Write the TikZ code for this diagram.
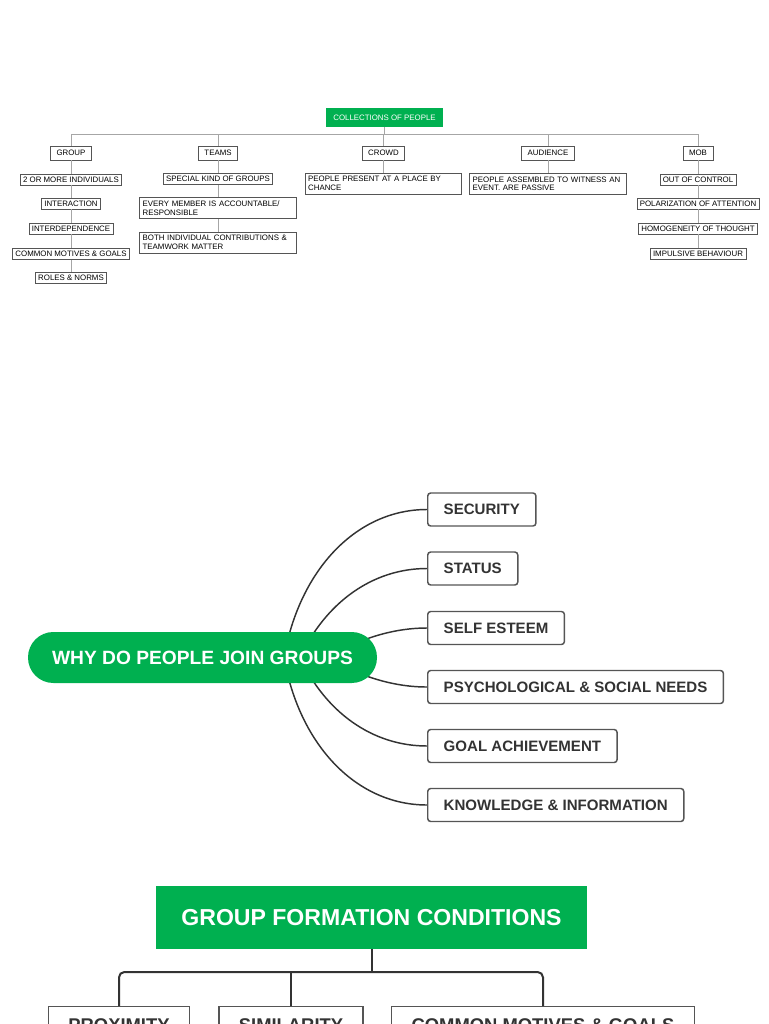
\documentclass[tikz,border=0pt]{standalone}
\usepackage{fontspec}
\setmainfont{Liberation Sans}
\usetikzlibrary{calc,backgrounds}
\definecolor{mapgreen}{HTML}{00B050}
\definecolor{ink}{HTML}{333333}
\definecolor{edge}{HTML}{555555}

\begin{document}
\begin{tikzpicture}[x=0.75pt,y=-0.75pt,
  tiny/.style={font=\fontsize{5.9pt}{6.4pt}\selectfont},
  rootbox/.style={tiny, fill=mapgreen, text=white, inner xsep=5.6pt, inner ysep=0pt, minimum height=14.25pt},
  topbox/.style={tiny, draw=edge, line width=0.5pt, fill=white, inner xsep=4.5pt, inner ysep=0pt, minimum height=10.5pt},
  leaf/.style={tiny, draw=edge, line width=0.5pt, fill=white, inner xsep=2.2pt, inner ysep=0pt, minimum height=8.25pt},
  note/.style={leaf, text width=113pt, align=left, minimum height=15.75pt},
  tline/.style={draw=gray!70, line width=0.6pt},
  pill/.style={fill=mapgreen, text=white, font=\bfseries\fontsize{14.4pt}{17pt}\selectfont,
    minimum width=261.75pt, minimum height=38.25pt, rounded corners=19pt},
  reason/.style={draw=edge, line width=1.1pt, rounded corners=2.2pt, fill=white, text=ink,
    font=\bfseries\fontsize{11.3pt}{13pt}\selectfont, inner xsep=12pt, minimum height=24.75pt, anchor=west},
  link/.style={draw=ink, line width=1.1pt},
  gfcbox/.style={fill=mapgreen, text=white, font=\bfseries\fontsize{17.3pt}{20pt}\selectfont,
    minimum width=323.25pt, minimum height=47.25pt},
  cond/.style={draw=edge, line width=1.1pt, fill=white, text=ink,
    font=\bfseries\fontsize{13.8pt}{16pt}\selectfont, inner xsep=15pt, minimum height=27.75pt, anchor=north},
  bline/.style={draw=ink, line width=1.5pt}]
  \clip (0,0) rectangle (768,1024);

  % collections of people
  \node[rootbox] (root) at (384.5,117.5) {COLLECTIONS OF PEOPLE};
  \node[topbox] (grp) at (71,153) {GROUP};
  \node[topbox] (team) at (218,153) {TEAMS};
  \node[topbox] (crowd) at (383.5,153) {CROWD};
  \node[topbox] (aud) at (548,153) {AUDIENCE};
  \node[topbox] (mob) at (698,153) {MOB};
  \foreach \n in {grp,team,crowd,aud,mob}
    \draw[tline] (root.south) -- ++(0,7.5) -| (\n.north);

  \node[leaf] (g1) at (71,179.5) {2 OR MORE INDIVIDUALS};
  \node[leaf] (g2) at (71,203.5) {INTERACTION};
  \node[leaf] (g3) at (71,228.5) {INTERDEPENDENCE};
  \node[leaf] (g4) at (71,254) {COMMON MOTIVES \& GOALS};
  \node[leaf] (g5) at (71,277.5) {ROLES \& NORMS};
  \draw[tline] (grp) -- (g1) -- (g2) -- (g3) -- (g4) -- (g5);

  \node[leaf] (t1) at (218,179) {SPECIAL KIND OF GROUPS};
  \node[note] (t2) at (218,208) {EVERY MEMBER IS ACCOUNTABLE/\\RESPONSIBLE};
  \node[note] (t3) at (218,242.5) {BOTH INDIVIDUAL CONTRIBUTIONS \&\\TEAMWORK MATTER};
  \draw[tline] (team) -- (t1) -- (t2) -- (t3);

  \node[note] (c1) at (383.5,183.5) {PEOPLE PRESENT AT A PLACE BY\\CHANCE};
  \draw[tline] (crowd) -- (c1);

  \node[note] (a1) at (548,184) {PEOPLE ASSEMBLED TO WITNESS AN\\EVENT. ARE PASSIVE};
  \draw[tline] (aud) -- (a1);

  \node[leaf] (m1) at (698,179.5) {OUT OF CONTROL};
  \node[leaf] (m2) at (698,203.5) {POLARIZATION OF ATTENTION};
  \node[leaf] (m3) at (698,228.5) {HOMOGENEITY OF THOUGHT};
  \node[leaf] (m4) at (698,254) {IMPULSIVE BEHAVIOUR};
  \draw[tline] (mob) -- (m1) -- (m2) -- (m3) -- (m4);

  % why do people join groups
  \node[pill] (why) at (202.5,657.5) {WHY DO PEOPLE JOIN GROUPS};
  \node[reason] (sec) at (427,509.5) {SECURITY};
  \node[reason] (sts) at (427,568.5) {STATUS};
  \node[reason] (self) at (427,628) {SELF ESTEEM};
  \node[reason] (psy) at (427,687) {PSYCHOLOGICAL \& SOCIAL NEEDS};
  \node[reason] (goal) at (427,746) {GOAL ACHIEVEMENT};
  \node[reason] (know) at (427,805) {KNOWLEDGE \& INFORMATION};
  \begin{scope}[on background layer]
    \foreach \tgt/\sx/\cx/\cy/\ex in {sec/81.5/15.6/-88.6/-70, sts/97.5/25.4/-54.4/-55,
        self/124.5/34.6/-20/-32, psy/124.5/34.6/20/-32,
        goal/97.5/25.4/54.4/-55, know/81.5/15.6/88.6/-70}
      \draw[link] ($(why.center)+(\sx,0)$) .. controls +(\cx,\cy) and +(\ex,0) .. (\tgt.west);
  \end{scope}

  % group formation conditions
  \node[gfcbox] (gfc) at (371.5,917.5) {GROUP FORMATION CONDITIONS};
  \node[cond] (prox) at (119,1006) {PROXIMITY};
  \node[cond] (sim) at (291,1006) {SIMILARITY};
  \node[cond] (com) at (543,1006) {COMMON MOTIVES \& GOALS};
  \draw[bline] (gfc.south) -- ++(0,23);
  \draw[bline, rounded corners=4pt] (prox.north) -- ++(0,-34) -| (com.north);
  \draw[bline] (sim.north) -- ++(0,-34);
\end{tikzpicture}
\end{document}
